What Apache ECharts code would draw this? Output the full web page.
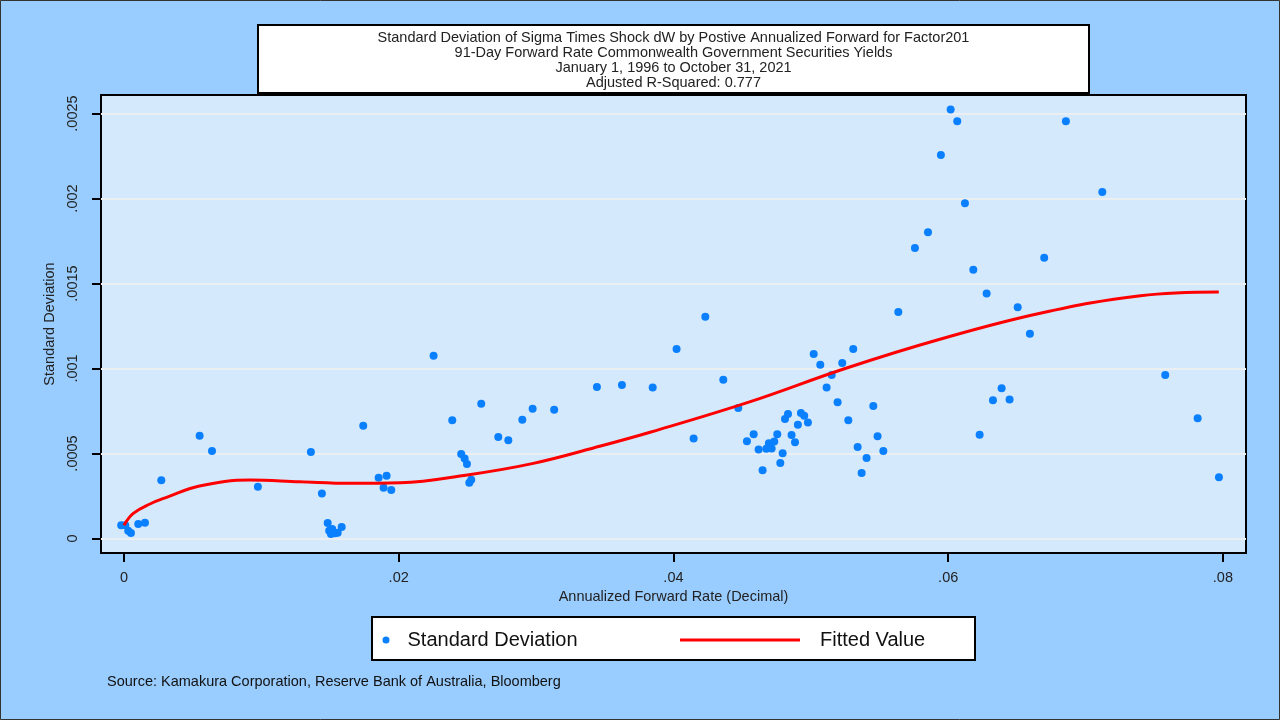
<!DOCTYPE html>
<html>
<head>
<meta charset="utf-8">
<script src="https://cdn.jsdelivr.net/npm/echarts@6/dist/echarts.min.js"></script>
<style>
  html, body { margin: 0; padding: 0; background: #99ccff; }
  #main { width: 1280px; height: 720px; }
</style>
</head>
<body>
<div id="main"></div>
<script>
// scatter points: annualized forward rate vs standard deviation
var stdX = [-0.0002, 0.0001, 0.00031, 0.00051, 0.00104, 0.00153, 0.00272, 0.00551, 0.00641, 0.00975,
  0.01361, 0.01441, 0.01483, 0.01494, 0.01507, 0.01516, 0.01536, 0.01556, 0.01585, 0.01742,
  0.01854, 0.01912, 0.0189, 0.01946, 0.02254, 0.0239, 0.02455, 0.0248, 0.02497, 0.02514,
  0.02528, 0.02601, 0.02725, 0.02798, 0.029, 0.02975, 0.03132, 0.03443, 0.03625, 0.03849,
  0.04023, 0.04147, 0.04232, 0.04363, 0.04472, 0.04535, 0.04584, 0.0462, 0.04649, 0.04676,
  0.04695, 0.04715, 0.04734, 0.04756, 0.04778, 0.04795, 0.04812, 0.04834, 0.0486, 0.04885,
  0.04906, 0.04928, 0.04952, 0.04979, 0.05021, 0.05069, 0.05115, 0.05152, 0.05195, 0.05229,
  0.05273, 0.05309, 0.05341, 0.0537, 0.05406, 0.05455, 0.05486, 0.05528, 0.05637, 0.05758,
  0.05853, 0.05947, 0.06018, 0.06066, 0.06122, 0.06183, 0.06229, 0.0628, 0.06326, 0.06389,
  0.06447, 0.06506, 0.06595, 0.06699, 0.06857, 0.07122, 0.0758, 0.07816, 0.07971];
var stdY = [0.000078, 0.000078, 0.000046, 0.000032, 0.000085, 0.000093, 0.000342, 0.000605, 0.000515, 0.000305,
  0.000509, 0.000264, 0.000091, 0.000046, 0.000027, 0.000056, 0.000031, 0.000034, 0.000068, 0.000664,
  0.000358, 0.000369, 0.000299, 0.000285, 0.001075, 0.000695, 0.000497, 0.00047, 0.000438, 0.000328,
  0.000346, 0.000793, 0.000597, 0.000578, 0.000699, 0.000764, 0.000758, 0.000891, 0.000903, 0.000889,
  0.001115, 0.000589, 0.001305, 0.000934, 0.000768, 0.000572, 0.000613, 0.000523, 0.000401, 0.000528,
  0.00056, 0.00053, 0.00057, 0.000613, 0.000444, 0.000501, 0.000703, 0.000732, 0.000609, 0.000566,
  0.000669, 0.000738, 0.000722, 0.000683, 0.001085, 0.001022, 0.000889, 0.000962, 0.000801, 0.001032,
  0.000695, 0.001115, 0.000538, 0.000385, 0.000474, 0.000779, 0.000601, 0.000515, 0.001332, 0.001709,
  0.001801, 0.002256, 0.002523, 0.002454, 0.001972, 0.001581, 0.000611, 0.001442, 0.000813, 0.000884,
  0.000817, 0.00136, 0.001205, 0.001652, 0.002454, 0.002038, 0.000962, 0.000707, 0.00036];

// fitted curve
var fitX = [0, 0.00068, 0.00189, 0.0031, 0.0055, 0.0092, 0.0128, 0.0165, 0.0201, 0.025,
  0.0298, 0.0347, 0.0383, 0.0456, 0.0525, 0.0594, 0.0667, 0.074, 0.0797];
var fitY = [0.000078, 0.000148, 0.000203, 0.000242, 0.000309, 0.000344, 0.000334, 0.000325, 0.000328, 0.000374,
  0.000442, 0.000544, 0.000625, 0.000805, 0.001, 0.001172, 0.001325, 0.001428, 0.00145];

var xTicks = [0, 0.02, 0.04, 0.06, 0.08];
var yTicks = [0, 0.0005, 0.001, 0.0015, 0.002, 0.0025];

var titleLines = [
  'Standard Deviation of Sigma Times Shock dW by Postive Annualized Forward for Factor201',
  '91-Day Forward Rate Commonwealth Government Securities Yields',
  'January 1, 1996 to October 31, 2021',
  'Adjusted R-Squared: 0.777'
];

function stataFmt(v) {
  if (v === 0) return '0';
  return String(+v.toPrecision(6)).replace(/^0\./, '.');
}

var chart = echarts.init(document.getElementById('main'));
var font = 'Liberation Sans, Arial, sans-serif';

var option = {
  backgroundColor: '#99ccff',
  textStyle: { fontFamily: font },
  animation: false,
  grid: {
    left: 101, right: 34, top: 95, bottom: 167,
    show: true,
    backgroundColor: '#d5e9fc',
    borderColor: '#000',
    borderWidth: 2
  },
  xAxis: {
    type: 'value',
    min: -0.00167,
    max: 0.08168,
    name: 'Annualized Forward Rate (Decimal)',
    nameLocation: 'middle',
    nameGap: 36,
    nameTextStyle: { fontSize: 14.5, color: '#222' },
    axisLine: { show: false, onZero: false },
    axisTick: { show: true, customValues: xTicks, length: 9, lineStyle: { color: '#000', width: 2 } },
    axisLabel: { customValues: xTicks, formatter: stataFmt, fontSize: 14.5, color: '#222', margin: 17 },
    splitLine: { show: false }
  },
  yAxis: {
    type: 'value',
    min: -0.0000853,
    max: 0.002609,
    name: 'Standard Deviation',
    nameLocation: 'middle',
    nameGap: 41,
    nameTextStyle: { fontSize: 14.5, color: '#222' },
    axisLine: { show: false, onZero: false },
    axisTick: { show: true, customValues: yTicks, length: 9, lineStyle: { color: '#000', width: 2 } },
    axisLabel: { customValues: yTicks, formatter: stataFmt, rotate: 90, fontSize: 14.5, color: '#222', margin: 21 },
    splitLine: { show: true, lineStyle: { color: '#eceff1', width: 2 } }
  },
  legend: [
    {
      data: ['Standard Deviation'],
      left: 377.5, top: 625,
      icon: 'circle',
      itemWidth: 7, itemHeight: 7,
      selectedMode: false,
      textStyle: { fontSize: 20, color: '#111', padding: [0, 0, 0, 13] }
    },
    {
      data: [{ name: 'Fitted Value', icon: 'rect' }],
      left: 675, top: 625,
      itemWidth: 120, itemHeight: 3,
      selectedMode: false,
      textStyle: { fontSize: 20, color: '#111', padding: [0, 0, 0, 15] }
    }
  ],
  graphic: [
    { type: 'rect', z: -1, shape: { x: 0.5, y: 0.5, width: 1279, height: 719 }, style: { fill: 'none', stroke: '#333', lineWidth: 1 } },
    { type: 'rect', z: 0, shape: { x: 258, y: 25, width: 831, height: 68 }, style: { fill: '#fff', stroke: '#000', lineWidth: 2 } },
    {
      type: 'text', z: 1, x: 673.5, y: 30,
      style: { text: titleLines.join('\n'), fill: '#222', font: '14.5px ' + font, textAlign: 'center', lineHeight: 15 }
    },
    { type: 'rect', z: 0, shape: { x: 372, y: 617, width: 603, height: 43 }, style: { fill: '#fff', stroke: '#000', lineWidth: 2 } },
    {
      type: 'text', z: 1, x: 107, y: 682,
      style: { text: 'Source: Kamakura Corporation, Reserve Bank of Australia, Bloomberg', fill: '#111', font: '14.5px ' + font, textVerticalAlign: 'middle' }
    }
  ],
  series: [
    {
      name: 'Standard Deviation',
      type: 'scatter',
      symbolSize: 8,
      itemStyle: { color: '#0a80ff', opacity: 1 },
      data: stdX.map(function (x, i) { return [x, stdY[i]]; })
    },
    {
      name: 'Fitted Value',
      type: 'line',
      smooth: 0.4,
      symbol: 'none',
      lineStyle: { color: '#ff0000', width: 3 },
      itemStyle: { color: '#ff0000' },
      data: fitX.map(function (x, i) { return [x, fitY[i]]; })
    }
  ]
};

chart.setOption(option);
</script>
</body>
</html>
